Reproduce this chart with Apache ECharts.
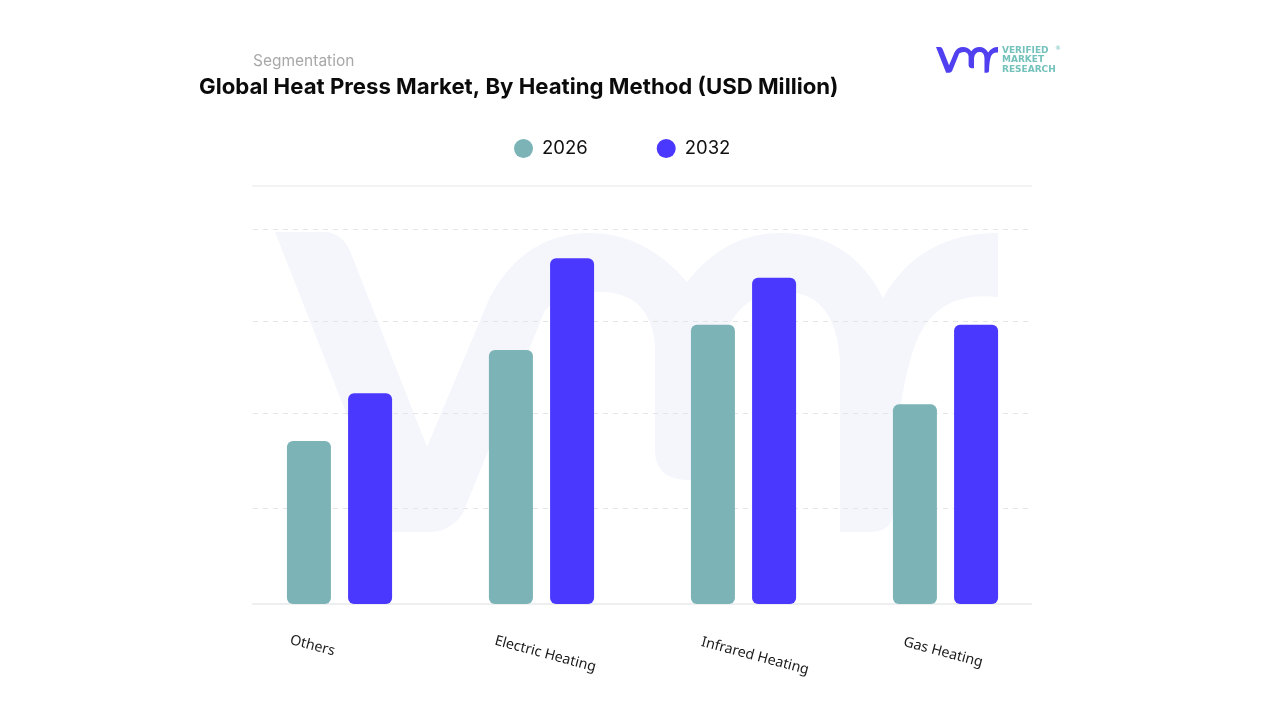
<!DOCTYPE html>
<html>
<head>
<meta charset="utf-8">
<title>Global Heat Press Market</title>
<script src="https://cdn.jsdelivr.net/npm/echarts@6/dist/echarts.min.js"></script>
<style>
  html, body { margin: 0; padding: 0; background: #fff; }
  #chart { width: 1280px; height: 720px; }
</style>
</head>
<body>
<div id="chart"></div>
<script>
var categories = ['Others', 'Electric Heating', 'Infrared Heating', 'Gas Heating'];
var values2026 = [174, 271, 298, 213];
var values2032 = [225, 369, 348, 298];
// the gridlines in the picture are not evenly spaced
var gridValues = [102, 203, 302, 400];

// labels in the picture sit off-centre, so each one gets its own padding
var labelPadding = [
    [14, 56, 0, 0],
    [16, 0, 0, 8],
    [10, 0, 0, 24],
    [11, 5, 0, 0]
];

var logoPath = 'M275 232 L327 232 Q345 235 352 256 L427 447 L490 297 Q525 233 590 233 Q645 233 687 282 ' +
    'Q725 233 780 233 Q850 233 883 298 Q920 233 998 233 L998 297 Q935 290 915 345 Q895 400 893 513 ' +
    'Q892 532 870 532 L840 532 L840 360 Q835 292 785 292 Q730 292 718 360 L718 480 L685 480 ' +
    'Q655 478 655 450 L655 345 Q650 292 600 292 Q565 292 545 310 L463 513 Q450 532 430 532 L393 532 Z';

var logoScale = 0.0858;

echarts.graphic.registerShape('vmrLogo', echarts.graphic.extendPath(logoPath, {}));

function logoText(text, y) {
    return {
        type: 'text', left: 1002, top: y,
        style: { text: text, fill: '#74c2bb', font: '700 9px "DejaVu Sans"' }
    };
}

var chart = echarts.init(document.getElementById('chart'));
chart.setOption({
    animation: false,
    backgroundColor: '#ffffff',
    textStyle: { fontFamily: 'Inter' },
    title: [
        {
            text: 'Segmentation', left: 248, top: 48,
            textStyle: { fontFamily: 'Inter', fontSize: 15.5, fontWeight: 400, color: '#a8a8a8' }
        },
        {
            text: 'Global Heat Press Market, By Heating Method (USD Million)', left: 194, top: 71,
            textStyle: { fontFamily: 'Inter', fontSize: 22.2, fontWeight: 700, color: '#0b0b0b' }
        }
    ],
    legend: {
        left: 509, top: 134, itemWidth: 19, itemHeight: 19, itemGap: 69,
        icon: 'circle',
        textStyle: { fontFamily: 'Inter', fontSize: 18.5, color: '#111111', padding: [0, 0, 0, 4] }
    },
    graphic: [
        {
            type: 'vmrLogo', x: 0, y: 0, z: -5,
            style: { fill: '#f4f6fc' }
        },
        {
            type: 'vmrLogo', x: 936 - 275 * logoScale, y: 47 - 233 * logoScale,
            scaleX: logoScale, scaleY: logoScale,
            style: { fill: '#5040f0' }
        },
        logoText('VERIFIED', 46),
        logoText('MARKET', 55.5),
        logoText('RESEARCH', 65),
        {
            type: 'text', left: 1055, top: 45,
            style: { text: '®', fill: '#74c2bb', font: '400 6px "DejaVu Sans"' }
        }
    ],
    grid: [
        { left: 253, width: 778, top: 186, height: 418 },
        { left: 238.5, width: 808, top: 186, height: 418 }
    ],
    xAxis: [
        {
            gridIndex: 0, type: 'value', min: 0, max: 1, position: 'bottom',
            axisLine: { show: true, onZero: false, lineStyle: { color: '#eceef0', width: 2 } },
            axisTick: { show: false }, axisLabel: { show: false }, splitLine: { show: false }
        },
        {
            gridIndex: 0, type: 'value', min: 0, max: 1, position: 'top',
            axisLine: { show: true, onZero: false, lineStyle: { color: '#f2f3f4', width: 2 } },
            axisTick: { show: false }, axisLabel: { show: false }, splitLine: { show: false }
        },
        {
            gridIndex: 1, type: 'category',
            data: categories.map(function (name, i) {
                return {
                    value: name,
                    textStyle: { align: 'center', verticalAlign: 'middle', padding: labelPadding[i] }
                };
            }),
            axisLine: { show: false }, axisTick: { show: false },
            axisLabel: {
                interval: 0, rotate: -15, margin: 49,
                fontFamily: 'Noto Sans', fontSize: 14.2, color: '#1a1a1a'
            }
        }
    ],
    yAxis: [
        {
            gridIndex: 0, type: 'value', min: 0, max: 446,
            axisLine: { show: false }, axisLabel: { show: false },
            axisTick: { show: false, customValues: gridValues },
            splitLine: { show: true, lineStyle: { color: '#e4e5e7', width: 1, type: [5, 5] } }
        },
        {
            gridIndex: 1, type: 'value', min: 0, max: 446,
            axisLine: { show: false }, axisTick: { show: false }, axisLabel: { show: false },
            splitLine: { show: false }
        }
    ],
    series: [
        {
            name: '2026', type: 'bar', xAxisIndex: 2, yAxisIndex: 1,
            data: values2026, barWidth: 44, barGap: '39%',
            itemStyle: { color: '#7bb3b7', borderRadius: 6 }
        },
        {
            name: '2032', type: 'bar', xAxisIndex: 2, yAxisIndex: 1,
            data: values2032, barWidth: 44,
            itemStyle: { color: '#4b38ff', borderRadius: 6 }
        }
    ]
});
</script>
</body>
</html>
